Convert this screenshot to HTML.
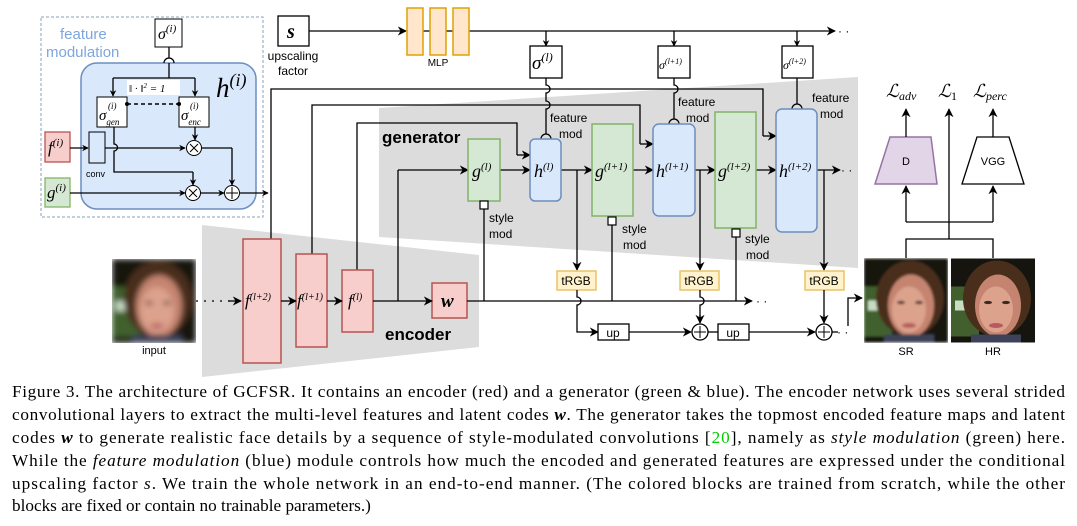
<!DOCTYPE html>
<html><head><meta charset="utf-8"><style>
html,body{margin:0;padding:0;background:#fff;}
svg{display:block;}
.s{font-family:"Liberation Sans",sans-serif;}
.m{font-family:"Liberation Serif",serif;font-style:italic;}
</style></head><body>
<svg width="1077" height="526" viewBox="0 0 1077 526" xmlns="http://www.w3.org/2000/svg">
<defs>
<marker id="a" viewBox="0 0 10 10" refX="9" refY="5" markerWidth="7" markerHeight="7" orient="auto"><path d="M0,0 L10,5 L0,10 L3,5z" fill="#000"/></marker>
<marker id="as" viewBox="0 0 10 10" refX="9" refY="5" markerWidth="5" markerHeight="5" orient="auto"><path d="M0,0 L10,5 L0,10 L3,5z" fill="#000"/></marker>
<filter id="bl"><feGaussianBlur stdDeviation="3"/></filter>
<filter id="bl2"><feGaussianBlur stdDeviation="1.2"/></filter>
<symbol id="face" viewBox="0 0 84 84">
<rect width="84" height="84" fill="#15140f"/>
<rect x="0" y="28" width="28" height="50" fill="#41602d"/>
<rect x="4" y="42" width="12" height="10" fill="#c8dcc4"/>
<ellipse cx="46" cy="40" rx="34" ry="38" fill="#4a2e1c"/>
<ellipse cx="47" cy="47" rx="23" ry="31" fill="#c48470"/>
<ellipse cx="45" cy="51" rx="17" ry="23" fill="#dca28c"/>
<ellipse cx="37" cy="44" rx="4" ry="1.6" fill="#3a2a22"/>
<ellipse cx="55" cy="44" rx="4" ry="1.6" fill="#3a2a22"/>
<ellipse cx="45" cy="67" rx="7" ry="2.5" fill="#b85a5f"/>
<rect x="20" y="76" width="50" height="8" fill="#3d4258"/>
</symbol>
</defs>

<polygon points="379,108 858,77 858,268 379,237" fill="#dcdcdc"/>
<polygon points="202,225 479,255 479,347 202,377" fill="#dcdcdc"/>

<rect x="41" y="17" width="222" height="200" fill="none" stroke="#8aa0bd" stroke-width="1" stroke-dasharray="3,2"/>
<text x="60" y="39" class="s" font-size="15" fill="#7ea6dc">feature</text>
<text x="46" y="57" class="s" font-size="15" fill="#7ea6dc">modulation</text>
<rect x="81" y="63" width="175" height="146" rx="16" fill="#dae8fc" stroke="#6c8ebf" stroke-width="1.5"/>
<text x="216" y="97" class="m" font-size="27">h<tspan font-size="18" dy="-11">(i)</tspan></text>
<rect x="155" y="19" width="27" height="28" fill="#fff" stroke="#000"/>
<text x="158" y="39" class="m" font-size="16">σ<tspan font-size="11" dy="-7">(i)</tspan></text>
<path d="M169,47 V58 M164,63 A5,5 0 0 1 174,63 M169,63 V78 M113,78 H195" fill="none" stroke="#000" stroke-width="1.3"/>
<line x1="113" y1="78" x2="113" y2="96" stroke="#000" stroke-width="1.3" marker-end="url(#as)"/>
<line x1="195" y1="78" x2="195" y2="96" stroke="#000" stroke-width="1.3" marker-end="url(#as)"/>
<rect x="127" y="80" width="53" height="15" fill="#fff"/>
<text x="129" y="92" class="m" font-size="11" font-style="normal">‖ · ‖<tspan font-size="7" dy="-4">2</tspan><tspan dy="4"> = 1</tspan></text>
<rect x="97" y="97" width="30" height="30" fill="#fff" stroke="#000"/>
<text x="99" y="120" class="m" font-size="15">σ<tspan font-size="9" dy="5">gen</tspan></text>
<text x="108" y="109" class="m" font-size="9">(i)</text>
<rect x="179" y="97" width="30" height="30" fill="#fff" stroke="#000"/>
<text x="181" y="120" class="m" font-size="15">σ<tspan font-size="9" dy="5">enc</tspan></text>
<text x="190" y="109" class="m" font-size="9">(i)</text>
<line x1="127" y1="104" x2="179" y2="104" stroke="#000" stroke-width="1.5" stroke-dasharray="4,3"/>
<circle cx="127" cy="104" r="2" fill="#000"/><circle cx="179" cy="104" r="2" fill="#000"/>
<rect x="45" y="132" width="25" height="30" fill="#f8cecc" stroke="#b85450" stroke-width="1.3"/>
<text x="48" y="153" class="m" font-size="17">f<tspan font-size="11" dy="-7">(i)</tspan></text>
<rect x="45" y="178" width="25" height="29" fill="#d5e8d4" stroke="#82b366" stroke-width="1.3"/>
<text x="47" y="198" class="m" font-size="17">g<tspan font-size="11" dy="-7">(i)</tspan></text>
<rect x="89" y="132" width="16" height="31" fill="#dae8fc" stroke="#000"/>
<text x="86" y="177" class="s" font-size="9">conv</text>
<line x1="70" y1="148" x2="88" y2="148" stroke="#000" stroke-width="1.3" marker-end="url(#as)"/>
<line x1="105" y1="148" x2="185" y2="148" stroke="#000" stroke-width="1.3" marker-end="url(#as)"/>
<line x1="195" y1="127" x2="195" y2="140" stroke="#000" stroke-width="1.3" marker-end="url(#as)"/>
<path d="M114,127 V144 A3,3 0 0 1 114,151 V172 H193" fill="none" stroke="#000" stroke-width="1.3"/>
<line x1="193" y1="172" x2="193" y2="185" stroke="#000" stroke-width="1.3" marker-end="url(#as)"/>
<line x1="70" y1="193" x2="185" y2="193" stroke="#000" stroke-width="1.3" marker-end="url(#as)"/>
<line x1="201" y1="193" x2="224" y2="193" stroke="#000" stroke-width="1.3" marker-end="url(#as)"/>
<path d="M202,148 H232" fill="none" stroke="#000" stroke-width="1.3"/>
<line x1="232" y1="148" x2="232" y2="185" stroke="#000" stroke-width="1.3" marker-end="url(#as)"/>
<line x1="240" y1="193" x2="268" y2="193" stroke="#000" stroke-width="1.3" marker-end="url(#as)"/>
<g stroke="#000" stroke-width="1" fill="#fff">
<circle cx="194" cy="148" r="7.5"/><circle cx="193" cy="193" r="7.5"/><circle cx="232" cy="193" r="7.5"/>
<path d="M190,144 l8,8 M198,144 l-8,8 M189,189 l8,8 M197,189 l-8,8 M232,187 v12 M226,193 h12" fill="none"/>
</g>

<rect x="278" y="16" width="31" height="30" fill="#fff" stroke="#000" stroke-width="1.3"/>
<text x="287" y="38" class="m" font-size="20" font-weight="bold">s</text>
<text x="293" y="60" class="s" font-size="12" text-anchor="middle">upscaling</text>
<text x="293" y="75" class="s" font-size="12" text-anchor="middle">factor</text>
<line x1="309" y1="31" x2="406" y2="31" stroke="#000" stroke-width="1.3" marker-end="url(#a)"/>
<line x1="423" y1="31" x2="835" y2="31" stroke="#000" stroke-width="1.3" marker-end="url(#a)"/>
<text x="838" y="35" class="s" font-size="12">· ·</text>
<g fill="#ffe6cc" stroke="#e0a000" stroke-width="1.5">
<rect x="407" y="8" width="16" height="47"/><rect x="430" y="8" width="16" height="47"/><rect x="453" y="8" width="16" height="47"/>
</g>
<text x="438" y="66" class="s" font-size="10" text-anchor="middle">MLP</text>

<g stroke="#000" stroke-width="1.3">
<line x1="546" y1="31" x2="546" y2="46" marker-end="url(#as)"/>
<line x1="674" y1="31" x2="674" y2="46" marker-end="url(#as)"/>
<line x1="797" y1="31" x2="797" y2="46" marker-end="url(#as)"/>
</g>
<rect x="530" y="46" width="32" height="32" fill="#fff" stroke="#000" stroke-width="1.3"/>
<text x="532" y="69" class="m" font-size="19">σ<tspan font-size="12" dy="-8">(l)</tspan></text>
<rect x="658" y="46" width="32" height="32" fill="#fff" stroke="#000" stroke-width="1.3"/>
<text x="659" y="69" class="m" font-size="12">σ<tspan font-size="8" dy="-5">(l+1)</tspan></text>
<rect x="782" y="46" width="31" height="32" fill="#fff" stroke="#000" stroke-width="1.3"/>
<text x="783" y="69" class="m" font-size="12">σ<tspan font-size="8" dy="-5">(l+2)</tspan></text>

<g fill="none" stroke="#000" stroke-width="1.3">
<path d="M271,239 V89 H763 V136"/>
<path d="M312,254 V105 H640 V144"/>
<path d="M357,270 V123 H517 V155"/>
<path d="M398,301 V170"/>
<path d="M546,78 V85 A4,4 0 0 1 546,93 V101 A4,4 0 0 1 546,109 V134"/>
<path d="M541,139 A5,5 0 0 1 551,139"/>
<path d="M674,78 V85 A4,4 0 0 1 674,93 V119"/>
<path d="M669,124 A5,5 0 0 1 679,124"/>
<path d="M797,78 V104"/>
<path d="M792,109 A5,5 0 0 1 802,109"/>
</g>
<g stroke="#000" stroke-width="1.3">
<line x1="763" y1="136" x2="776" y2="136" marker-end="url(#a)"/>
<line x1="640" y1="144" x2="653" y2="144" marker-end="url(#a)"/>
<line x1="517" y1="155" x2="530" y2="155" marker-end="url(#a)"/>
<line x1="398" y1="170" x2="468" y2="170" marker-end="url(#a)"/>
<line x1="500" y1="170" x2="530" y2="170" marker-end="url(#a)"/>
<line x1="561" y1="170" x2="592" y2="170" marker-end="url(#a)"/>
<line x1="633" y1="170" x2="653" y2="170" marker-end="url(#a)"/>
<line x1="695" y1="170" x2="715" y2="170" marker-end="url(#a)"/>
<line x1="756" y1="170" x2="776" y2="170" marker-end="url(#a)"/>
<line x1="817" y1="170" x2="840" y2="170" marker-end="url(#a)"/>
<line x1="577" y1="170" x2="577" y2="270" marker-end="url(#a)"/>
<line x1="700" y1="170" x2="700" y2="270" marker-end="url(#a)"/>
<line x1="824" y1="170" x2="824" y2="270" marker-end="url(#a)"/>
</g>
<text x="841" y="174" class="s" font-size="12">· ·</text>

<g stroke-width="1.5">
<rect x="468" y="139" width="32" height="62" fill="#d5e8d4" stroke="#82b366"/>
<rect x="592" y="124" width="41" height="92" fill="#d5e8d4" stroke="#82b366"/>
<rect x="715" y="112" width="41" height="116" fill="#d5e8d4" stroke="#82b366"/>
<rect x="530" y="139" width="31" height="62" rx="5" fill="#dae8fc" stroke="#6c8ebf"/>
<rect x="653" y="124" width="42" height="92" rx="6" fill="#dae8fc" stroke="#6c8ebf"/>
<rect x="776" y="109" width="41" height="123" rx="6" fill="#dae8fc" stroke="#6c8ebf"/>
</g>
<g class="m">
<text x="472" y="177" font-size="18">g<tspan font-size="11" dy="-7">(l)</tspan></text>
<text x="595" y="177" font-size="18">g<tspan font-size="11" dy="-7">(l+1)</tspan></text>
<text x="718" y="177" font-size="18">g<tspan font-size="11" dy="-7">(l+2)</tspan></text>
<text x="534" y="177" font-size="18">h<tspan font-size="11" dy="-7">(l)</tspan></text>
<text x="656" y="177" font-size="18">h<tspan font-size="11" dy="-7">(l+1)</tspan></text>
<text x="779" y="177" font-size="18">h<tspan font-size="11" dy="-7">(l+2)</tspan></text>
</g>
<text x="382" y="143" class="s" font-size="17" font-weight="bold">generator</text>
<g class="s" font-size="12">
<text x="550" y="122">feature</text><text x="559" y="138">mod</text>
<text x="678" y="106">feature</text><text x="686" y="122">mod</text>
<text x="812" y="102">feature</text><text x="820" y="118">mod</text>
<text x="489" y="222">style</text><text x="489" y="238">mod</text>
<text x="622" y="233">style</text><text x="623" y="249">mod</text>
<text x="745" y="243">style</text><text x="746" y="259">mod</text>
</g>
<g fill="none" stroke="#000" stroke-width="1.3">
<path d="M484,209 V301 M612,225 V301 M736,237 V301"/>
</g>
<g fill="#fff" stroke="#000" stroke-width="1.2">
<rect x="480" y="201" width="8" height="8"/><rect x="608" y="217" width="8" height="8"/><rect x="732" y="229" width="8" height="8"/>
</g>

<line x1="196" y1="301" x2="236" y2="301" stroke="#000" stroke-width="1.3" stroke-dasharray="2,6" />
<line x1="228" y1="301" x2="241" y2="301" stroke="#000" stroke-width="1.3" marker-end="url(#a)"/>
<g stroke="#b85450" stroke-width="1.5" fill="#f8cecc">
<rect x="243" y="239" width="38" height="124"/>
<rect x="296" y="254" width="31" height="93"/>
<rect x="342" y="270" width="31" height="62"/>
<rect x="432" y="283" width="35" height="35"/>
</g>
<g stroke="#000" stroke-width="1.3">
<line x1="281" y1="301" x2="296" y2="301" marker-end="url(#a)"/>
<line x1="327" y1="301" x2="342" y2="301" marker-end="url(#a)"/>
<line x1="373" y1="301" x2="432" y2="301" marker-end="url(#a)"/>
<line x1="467" y1="301" x2="752" y2="301" marker-end="url(#a)"/>
</g>
<text x="756" y="305" class="s" font-size="12">· ·</text>
<g class="m">
<text x="245" y="306" font-size="17">f<tspan font-size="10" dy="-6">(l+2)</tspan></text>
<text x="297" y="306" font-size="17">f<tspan font-size="10" dy="-6">(l+1)</tspan></text>
<text x="348" y="306" font-size="17">f<tspan font-size="10" dy="-6">(l)</tspan></text>
<text x="441" y="307" font-size="19" font-weight="bold">w</text>
</g>
<text x="385" y="340" class="s" font-size="17" font-weight="bold">encoder</text>

<svg x="112" y="259" width="84" height="84" viewBox="0 0 84 84"><g filter="url(#bl)"><use href="#face"/></g></svg>
<text x="154" y="354" class="s" font-size="11" text-anchor="middle">input</text>

<g fill="#fff2cc" stroke="#e8c36a" stroke-width="1.5">
<rect x="557" y="271" width="39" height="19"/><rect x="680" y="271" width="39" height="19"/><rect x="805" y="271" width="39" height="19"/>
</g>
<g class="s" font-size="12" text-anchor="middle">
<text x="576" y="285">tRGB</text><text x="699" y="285">tRGB</text><text x="824" y="285">tRGB</text>
</g>
<g fill="none" stroke="#000" stroke-width="1.3">
<path d="M577,290 V297 A4,4 0 0 1 577,305 V332 H598"/>
<path d="M700,290 V297 A4,4 0 0 1 700,305 V322"/>
<path d="M824,290 V322"/>
</g>
<g stroke="#000" stroke-width="1.3">
<line x1="590" y1="332" x2="598" y2="332" marker-end="url(#a)"/>
<line x1="629" y1="332" x2="691" y2="332" marker-end="url(#a)"/>
<line x1="700" y1="315" x2="700" y2="323" marker-end="url(#a)"/>
<line x1="708" y1="332" x2="718" y2="332"/>
<line x1="749" y1="332" x2="815" y2="332" marker-end="url(#a)"/>
<line x1="824" y1="315" x2="824" y2="323" marker-end="url(#a)"/>
<line x1="832" y1="332" x2="838" y2="332"/>
<path d="M848,326 V298 H862" fill="none" marker-end="url(#a)"/>
</g>
<text x="837" y="336" class="s" font-size="12">· ·</text>
<g fill="#fff" stroke="#000" stroke-width="1.3">
<rect x="598" y="324" width="31" height="16"/><rect x="718" y="324" width="31" height="16"/>
<circle cx="700" cy="332" r="8"/><circle cx="824" cy="332" r="8"/>
<path d="M700,326 v12 M694,332 h12 M824,326 v12 M818,332 h12" fill="none" stroke-width="1"/>
</g>
<g class="s" font-size="12" text-anchor="middle"><text x="613" y="337">up</text><text x="733" y="337">up</text></g>

<svg x="864" y="258" width="84" height="85" viewBox="0 0 84 84"><g filter="url(#bl2)"><use href="#face"/></g></svg>
<svg x="951" y="258" width="84" height="85" viewBox="0 0 84 84"><use href="#face"/></svg>
<text x="906" y="355" class="s" font-size="11" text-anchor="middle">SR</text>
<text x="993" y="355" class="s" font-size="11" text-anchor="middle">HR</text>
<polygon points="890,137 931,137 937,184 875,184" fill="#e1d5e7" stroke="#9673a6" stroke-width="1.5"/>
<polygon points="977,137 1009,137 1024,184 962,184" fill="#fff" stroke="#000" stroke-width="1.3"/>
<text x="906" y="165" class="s" font-size="11" text-anchor="middle">D</text>
<text x="993" y="165" class="s" font-size="11" text-anchor="middle">VGG</text>
<g fill="none" stroke="#000" stroke-width="1.3">
<path d="M906,258 V239 H993 V258"/>
<path d="M906,222 H993"/>
</g>
<g stroke="#000" stroke-width="1.3">
<line x1="906" y1="222" x2="906" y2="186" marker-end="url(#a)"/>
<line x1="993" y1="222" x2="993" y2="186" marker-end="url(#a)"/>
<line x1="906" y1="137" x2="906" y2="109" marker-end="url(#a)"/>
<line x1="993" y1="137" x2="993" y2="109" marker-end="url(#a)"/>
<line x1="949" y1="239" x2="949" y2="109" marker-end="url(#a)"/>
</g>
<g class="m" font-size="18">
<text x="886" y="97">ℒ<tspan font-size="12" dy="3">adv</tspan></text>
<text x="938" y="97">ℒ<tspan font-size="12" dy="3" font-style="normal">1</tspan></text>
<text x="973" y="97">ℒ<tspan font-size="12" dy="3">perc</tspan></text>
</g>

<g font-family="Liberation Serif, serif" font-size="17.2" fill="#000">
<text x="12" y="397" textLength="1053" lengthAdjust="spacing">Figure 3. The architecture of GCFSR. It contains an encoder (red) and a generator (green &amp; blue). The encoder network uses several strided</text>
<text x="12" y="420" textLength="1053" lengthAdjust="spacing">convolutional layers to extract the multi-level features and latent codes <tspan font-weight="bold" font-style="italic">w</tspan>. The generator takes the topmost encoded feature maps and latent</text>
<text x="12" y="443" textLength="1053" lengthAdjust="spacing">codes <tspan font-weight="bold" font-style="italic">w</tspan> to generate realistic face details by a sequence of style-modulated convolutions [<tspan fill="#00cc00">20</tspan>], namely as <tspan font-style="italic">style modulation</tspan> (green) here.</text>
<text x="12" y="466" textLength="1053" lengthAdjust="spacing">While the <tspan font-style="italic">feature modulation</tspan> (blue) module controls how much the encoded and generated features are expressed under the conditional</text>
<text x="12" y="489" textLength="1053" lengthAdjust="spacing">upscaling factor <tspan font-style="italic">s</tspan>.  We train the whole network in an end-to-end manner. (The colored blocks are trained from scratch, while the other</text>
<text x="12" y="511">blocks are fixed or contain no trainable parameters.)</text>
</g>
</svg>
</body></html>
